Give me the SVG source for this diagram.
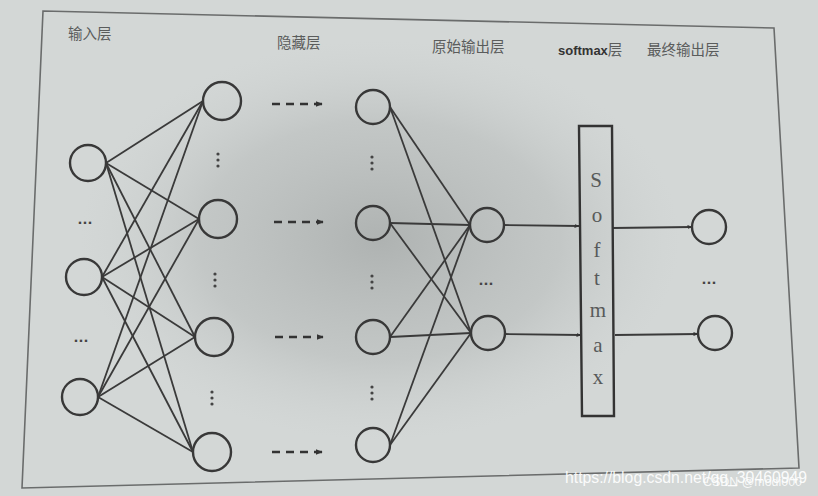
<svg xmlns="http://www.w3.org/2000/svg" width="818" height="496" viewBox="0 0 818 496">
  <defs>
    <radialGradient id="shade" cx="0.5" cy="0.5" r="0.5">
      <stop offset="0" stop-color="#a8acab" stop-opacity="0.85"/>
      <stop offset="0.6" stop-color="#b6bab9" stop-opacity="0.55"/>
      <stop offset="1" stop-color="#c8cccb" stop-opacity="0"/>
    </radialGradient>
    <marker id="arr" viewBox="0 0 10 10" refX="9" refY="5" markerWidth="5" markerHeight="5" orient="auto" markerUnits="userSpaceOnUse">
      <path d="M0,1 L10,5 L0,9 z" fill="#333"/>
    </marker>
    <marker id="darr" viewBox="0 0 10 10" refX="9" refY="5" markerWidth="7" markerHeight="7" orient="auto" markerUnits="userSpaceOnUse">
      <path d="M0,1 L10,5 L0,9 z" fill="#333"/>
    </marker>
  </defs>
  <style>
    .node{fill:none;stroke:#383838;stroke-width:2.4}
    .edge{stroke:#3a3a3a;stroke-width:1.8;fill:none}
    .dash{stroke:#333;stroke-width:2.4;stroke-dasharray:8,6;fill:none}
    .lbl{font-family:"Noto Sans CJK SC","Liberation Serif",serif;font-size:14.5px;fill:#5a5c5c}
    .sm{font-family:"Liberation Serif",serif;font-size:21px;fill:#585a5a;text-anchor:middle}
    .dots{font-family:"DejaVu Sans",sans-serif;font-size:13px;font-weight:bold;fill:#444;text-anchor:middle}
    .vd{fill:#444}
    .wm{font-family:"Liberation Sans",Arial,sans-serif;fill:#ffffff}
  </style>

  <!-- photo background -->
  <rect x="0" y="0" width="818" height="496" fill="#d3d7d6"/>
  <ellipse cx="380" cy="240" rx="300" ry="200" fill="url(#shade)"/>
  <polygon points="43,11 774,28 799,468 22,488" fill="none" stroke="#6a6c6c" stroke-width="1.6"/>

  <!-- labels -->
  <g id="labels">
    <text class="lbl" x="68" y="39">输入层</text>
    <text class="lbl" x="277" y="48">隐藏层</text>
    <text class="lbl" x="432" y="52">原始输出层</text>
    <text class="lbl" x="558" y="55"><tspan font-family="Liberation Sans,sans-serif" font-weight="bold" fill="#333" font-size="13">softmax</tspan>层</text>
    <text class="lbl" x="647" y="55">最终输出层</text>
  </g>

  <!-- connectors -->
  <g id="connectors">
    <!-- input -> hidden1 -->
    <line class="edge" x1="106" y1="163" x2="203" y2="101"/>
    <line class="edge" x1="106" y1="163" x2="199" y2="219"/>
    <line class="edge" x1="106" y1="163" x2="195" y2="337"/>
    <line class="edge" x1="106" y1="163" x2="193" y2="452"/>
    <line class="edge" x1="102" y1="277" x2="203" y2="101"/>
    <line class="edge" x1="102" y1="277" x2="199" y2="219"/>
    <line class="edge" x1="102" y1="277" x2="195" y2="337"/>
    <line class="edge" x1="102" y1="277" x2="193" y2="452"/>
    <line class="edge" x1="98" y1="397" x2="203" y2="101"/>
    <line class="edge" x1="98" y1="397" x2="199" y2="219"/>
    <line class="edge" x1="98" y1="397" x2="195" y2="337"/>
    <line class="edge" x1="98" y1="397" x2="193" y2="452"/>
    <!-- hidden1 -> hidden2 dashed -->
    <line class="dash" x1="272" y1="104" x2="322" y2="104" marker-end="url(#darr)"/>
    <line class="dash" x1="274" y1="222" x2="323" y2="222" marker-end="url(#darr)"/>
    <line class="dash" x1="275" y1="337" x2="323" y2="337" marker-end="url(#darr)"/>
    <line class="dash" x1="272" y1="452" x2="322" y2="452" marker-end="url(#darr)"/>
    <!-- hidden2 -> raw output -->
    <line class="edge" x1="390" y1="107" x2="470" y2="225"/>
    <line class="edge" x1="390" y1="107" x2="471" y2="333"/>
    <line class="edge" x1="390" y1="223" x2="470" y2="225"/>
    <line class="edge" x1="390" y1="223" x2="471" y2="333"/>
    <line class="edge" x1="390" y1="337" x2="470" y2="225"/>
    <line class="edge" x1="390" y1="337" x2="471" y2="333"/>
    <line class="edge" x1="390" y1="445" x2="470" y2="225"/>
    <line class="edge" x1="390" y1="445" x2="471" y2="333"/>
    <!-- raw output -> softmax -->
    <line class="edge" x1="504" y1="225" x2="579" y2="226" marker-end="url(#arr)"/>
    <line class="edge" x1="505" y1="334" x2="581" y2="335" marker-end="url(#arr)"/>
    <!-- softmax -> final -->
    <line class="edge" x1="613" y1="228" x2="692" y2="227" marker-end="url(#arr)"/>
    <line class="edge" x1="615" y1="335" x2="698" y2="334" marker-end="url(#arr)"/>
  </g>

  <!-- input layer -->
  <g id="input1"><circle class="node" cx="88" cy="163" r="18"/></g>
  <g id="input2"><circle class="node" cx="84" cy="277" r="18"/></g>
  <g id="input3"><circle class="node" cx="80" cy="397" r="18"/></g>
  <text class="dots" x="85" y="224">...</text>
  <text class="dots" x="81" y="342">...</text>

  <!-- hidden layer first -->
  <g id="hidden1a"><circle class="node" cx="222" cy="101" r="19"/></g>
  <g id="hidden1b"><circle class="node" cx="218" cy="219" r="19"/></g>
  <g id="hidden1c"><circle class="node" cx="214" cy="337" r="19"/></g>
  <g id="hidden1d"><circle class="node" cx="212" cy="452" r="19"/></g>
  <g class="vd">
    <circle cx="218" cy="154" r="1.6"/><circle cx="218" cy="160" r="1.6"/><circle cx="218" cy="166" r="1.6"/>
    <circle cx="215" cy="274" r="1.6"/><circle cx="215" cy="280" r="1.6"/><circle cx="215" cy="286" r="1.6"/>
    <circle cx="212" cy="392" r="1.6"/><circle cx="212" cy="398" r="1.6"/><circle cx="212" cy="404" r="1.6"/>
  </g>

  <!-- hidden layer last -->
  <g id="hidden2a"><circle class="node" cx="373" cy="107" r="17"/></g>
  <g id="hidden2b"><circle class="node" cx="373" cy="223" r="17"/></g>
  <g id="hidden2c"><circle class="node" cx="373" cy="337" r="17"/></g>
  <g id="hidden2d"><circle class="node" cx="373" cy="445" r="17"/></g>
  <g class="vd">
    <circle cx="372" cy="157" r="1.6"/><circle cx="372" cy="163" r="1.6"/><circle cx="372" cy="169" r="1.6"/>
    <circle cx="372" cy="276" r="1.6"/><circle cx="372" cy="282" r="1.6"/><circle cx="372" cy="288" r="1.6"/>
    <circle cx="372" cy="387" r="1.6"/><circle cx="372" cy="393" r="1.6"/><circle cx="372" cy="399" r="1.6"/>
  </g>

  <!-- raw output layer -->
  <g id="raw1"><circle class="node" cx="487" cy="225" r="17"/></g>
  <g id="raw2"><circle class="node" cx="488" cy="333" r="17"/></g>
  <text class="dots" x="486" y="285">...</text>

  <!-- softmax -->
  <g id="softmax">
    <polygon points="579,126 612,126 614,416 582,416" fill="none" stroke="#333" stroke-width="2.4"/>
    <text class="sm" x="596" y="187">S</text>
    <text class="sm" x="597" y="222">o</text>
    <text class="sm" x="597" y="257">f</text>
    <text class="sm" x="597" y="285">t</text>
    <text class="sm" x="598" y="317">m</text>
    <text class="sm" x="598" y="352">a</text>
    <text class="sm" x="598" y="384">x</text>
  </g>

  <!-- final output -->
  <g id="final1"><circle class="node" cx="709" cy="227" r="17"/></g>
  <g id="final2"><circle class="node" cx="715" cy="333" r="17"/></g>
  <text class="dots" x="709" y="284">...</text>

  <!-- watermark -->
  <text class="wm" x="565" y="483" font-size="16" textLength="242" lengthAdjust="spacingAndGlyphs" fill-opacity="0.92">https://blog.csdn.net/qq_30460949</text>
  <text class="wm" x="703" y="486" font-size="13" textLength="99" lengthAdjust="spacingAndGlyphs" fill-opacity="0.85">CSDN @modi000</text>
</svg>
